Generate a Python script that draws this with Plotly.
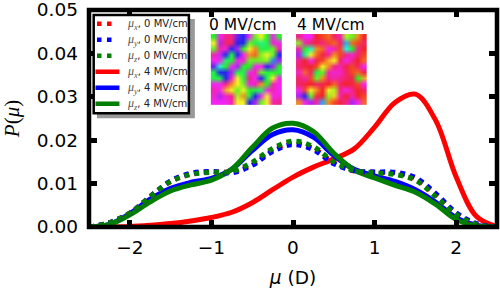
import base64
import colorsys
import struct
import zlib
import plotly.graph_objects as go

W, H = 500, 290
L, R, T, B = 89, 497.5, 10, 226.7

mu_grid = [-2.5, -2.25, -2.0, -1.75, -1.5, -1.25, -1.0, -0.75, -0.5, -0.25, 0.0, 0.25, 0.5, 0.75, 1.0, 1.25, 1.5, 1.75, 2.0, 2.25, 2.5]

p_x_4mv = [0.0, 0.0, 0.0001, 0.0004, 0.0008, 0.0014, 0.0022, 0.0034, 0.0056, 0.0086, 0.0115, 0.0138, 0.0157, 0.0180, 0.0230, 0.0287, 0.0306, 0.0245, 0.0115, 0.0024, 0.0001]
p_y_4mv = [0.0, 0.0006, 0.0031, 0.0064, 0.0089, 0.0103, 0.0112, 0.0133, 0.0176, 0.0213, 0.0224, 0.0207, 0.0165, 0.0133, 0.0118, 0.0105, 0.0086, 0.0057, 0.0021, 0.0004, 0.0]
p_z_4mv = [0.0, 0.0006, 0.0028, 0.0058, 0.0083, 0.0097, 0.0108, 0.0133, 0.0183, 0.0228, 0.0239, 0.0220, 0.0170, 0.0131, 0.0113, 0.0096, 0.0080, 0.0052, 0.0017, 0.0003, 0.0]
p_x_0mv = [0.0, 0.0010, 0.0032, 0.0070, 0.0105, 0.0122, 0.0127, 0.0127, 0.0145, 0.0177, 0.0193, 0.0181, 0.0148, 0.0129, 0.0126, 0.0124, 0.0111, 0.0074, 0.0031, 0.0007, 0.0]
p_y_0mv = [0.0, 0.0010, 0.0032, 0.0070, 0.0106, 0.0124, 0.0128, 0.0125, 0.0142, 0.0174, 0.0190, 0.0178, 0.0146, 0.0130, 0.0127, 0.0126, 0.0114, 0.0077, 0.0033, 0.0008, 0.0]
p_z_0mv = [0.0, 0.0010, 0.0032, 0.0070, 0.0105, 0.0121, 0.0126, 0.0128, 0.0149, 0.0181, 0.0198, 0.0185, 0.0150, 0.0130, 0.0125, 0.0121, 0.0108, 0.0070, 0.0029, 0.0006, 0.0]

hue_0mv = [
    [120, 300, 330, 330, 260, 240, 300, 100, 60, 120, 300, 120],
    [60, 280, 340, 340, 240, 240, 100, 130, 150, 130, 310, 300],
    [100, 320, 310, 240, 280, 120, 60, 30, 130, 130, 100, 320],
    [320, 290, 240, 130, 240, 300, 30, 20, 90, 60, 100, 240],
    [300, 300, 140, 120, 300, 310, 100, 100, 100, 90, 210, 280],
    [260, 170, 120, 300, 280, 120, 120, 300, 300, 240, 280, 120],
    [130, 240, 240, 280, 130, 130, 300, 320, 100, 130, 120, 130],
    [130, 130, 240, 310, 60, 130, 330, 300, 240, 130, 60, 300],
    [300, 300, 330, 30, 60, 100, 300, 320, 30, 120, 320, 300],
    [320, 300, 40, 60, 100, 60, 120, 130, 140, 300, 320, 300],
    [310, 280, 310, 330, 80, 30, 130, 240, 300, 60, 300, 310],
    [300, 300, 300, 320, 60, 60, 240, 280, 100, 60, 320, 330],
]
hue_4mv = [
    [330, 300, 300, 0, 10, 20, 340, 320, 80, 100, 30, 0],
    [90, 320, 340, 350, 330, 10, 20, 340, 200, 20, 10, 340],
    [320, 120, 170, 30, 20, 300, 320, 10, 180, 120, 330, 0],
    [280, 150, 60, 20, 350, 330, 30, 10, 330, 310, 340, 10],
    [330, 0, 300, 350, 10, 40, 60, 340, 300, 330, 0, 20],
    [340, 350, 0, 10, 60, 30, 330, 320, 350, 10, 340, 300],
    [310, 20, 340, 130, 100, 320, 310, 315, 340, 10, 20, 350],
    [340, 320, 10, 100, 30, 330, 320, 330, 340, 350, 120, 40],
    [340, 350, 0, 340, 350, 0, 20, 340, 0, 350, 10, 300],
    [300, 10, 60, 30, 0, 60, 80, 330, 300, 330, 0, 340],
    [280, 240, 100, 350, 0, 90, 50, 320, 0, 320, 0, 10],
    [30, 300, 280, 320, 200, 30, 10, 350, 330, 280, 300, 20],
]

legend_labels = [
    ("x", "0 MV/cm", "red", True), ("y", "0 MV/cm", "blue", True), ("z", "0 MV/cm", "green", True),
    ("x", "4 MV/cm", "red", False), ("y", "4 MV/cm", "blue", False), ("z", "4 MV/cm", "green", False),
]
y_ticks = [0.0, 0.01, 0.02, 0.03, 0.04, 0.05]
x_ticks = [-2, -1, 0, 1, 2]
x_tick_text = ["−2", "−1", "0", "1", "2"]


def px(x):
    return (x - L) / (R - L)


def py(y):
    return (B - y) / (B - T)


def png_uri(grid):
    """Encode a hue grid as a small PNG; the browser blends it when stretched."""
    rows = []
    for row in grid:
        raw = bytearray([0])
        for h in row:
            r, g, b = colorsys.hsv_to_rgb(h / 360, 0.85, 0.95)
            raw += bytes([int(r * 255), int(g * 255), int(b * 255)])
        rows.append(bytes(raw))

    def chunk(tag, data):
        return struct.pack(">I", len(data)) + tag + data + struct.pack(">I", zlib.crc32(tag + data))

    head = struct.pack(">IIBBBBB", len(grid[0]), len(grid), 8, 2, 0, 0, 0)
    png = b"\x89PNG\r\n\x1a\n" + chunk(b"IHDR", head) + chunk(b"IDAT", zlib.compress(b"".join(rows))) + chunk(b"IEND", b"")
    return "data:image/png;base64," + base64.b64encode(png).decode()


fig = go.Figure()
for name, ys, col, dash in [
    ("mu_x, 4 MV/cm", p_x_4mv, "#ff0000", None),
    ("mu_y, 4 MV/cm", p_y_4mv, "#0000ff", None),
    ("mu_z, 4 MV/cm", p_z_4mv, "#007f00", None),
    ("mu_x, 0 MV/cm", p_x_0mv, "#ff0000", "5px,5px"),
    ("mu_y, 0 MV/cm", p_y_0mv, "#0000ff", "5px,5px"),
    ("mu_z, 0 MV/cm", p_z_0mv, "#007f00", "5px,5px"),
]:
    fig.add_trace(go.Scatter(x=mu_grid, y=ys, name=name, mode="lines",
                             line=dict(color=col, width=5, dash=dash, shape="spline", smoothing=1.0)))

shapes = [
    dict(type="rect", xref="paper", yref="paper", x0=px(97), x1=px(195), y0=py(118), y1=py(19),
         fillcolor="#999999", line=dict(width=0), layer="above"),
    dict(type="rect", xref="paper", yref="paper", x0=px(93.7), x1=px(189), y0=py(113), y1=py(15),
         fillcolor="white", line=dict(color="black", width=2.5), layer="above"),
    dict(type="rect", xref="paper", yref="paper", x0=0, x1=1, y0=0, y1=1,
         line=dict(color="black", width=4.5), layer="above"),
]
annotations = [
    dict(text="0 MV/cm", x=px(243.5), y=py(25), xref="paper", yref="paper", showarrow=False,
         xanchor="center", yanchor="middle", font=dict(size=15.5, color="black")),
    dict(text="4 MV/cm", x=px(331), y=py(25), xref="paper", yref="paper", showarrow=False,
         xanchor="center", yanchor="middle", font=dict(size=15.5, color="black")),
]
colors = {"red": "#ff0000", "blue": "#0000ff", "green": "#007f00"}
for i, (sub, field, cname, dotted) in enumerate(legend_labels):
    row_y = 23.7 + i * 15.98
    line = dict(color=colors[cname], width=4.5)
    end = 119.5
    if dotted:
        line["dash"] = "4.5px,5.5px"
        end = 116
    shapes.append(dict(type="line", xref="paper", yref="paper", x0=px(97), x1=px(end) if dotted else px(end),
                       y0=py(row_y), y1=py(row_y), line=line, layer="above") if dotted else
                  dict(type="line", xref="paper", yref="paper", x0=px(95.5), x1=px(end),
                       y0=py(row_y), y1=py(row_y), line=line, layer="above"))
    annotations.append(dict(
        text=f"<span style='color:#555555;font-family:Liberation Serif;font-size:12px'><i>μ<sub>{sub}</sub></i></span>, {field}",
        x=px(125.5), y=py(row_y), xref="paper", yref="paper", xanchor="left", yanchor="middle",
        showarrow=False, font=dict(size=10, color="#222222")))

images = []
for grid, x0, x1 in [(hue_0mv, 211, 282), (hue_4mv, 296.3, 367)]:
    images.append(dict(source=png_uri(grid), xref="paper", yref="paper", x=px(x0), y=py(34),
                       sizex=px(x1) - px(x0), sizey=py(34) - py(104.7), sizing="stretch",
                       xanchor="left", yanchor="top", layer="above"))

fig.update_layout(
    width=W, height=H,
    margin=dict(l=L, r=W - R, t=T, b=H - B, autoexpand=False),
    paper_bgcolor="white", plot_bgcolor="white",
    showlegend=False,
    font=dict(family="DejaVu Sans", color="black"),
    shapes=shapes, annotations=annotations, images=images,
    xaxis=dict(range=[-2.5, 2.5], tickmode="array", tickvals=x_ticks, ticktext=x_tick_text,
               ticks="inside", ticklen=7, tickwidth=4.5, tickcolor="black", mirror="ticks",
               showgrid=False, zeroline=False, showline=False, ticklabeloverflow="allow",
               tickfont=dict(size=18.5), ticklabelstandoff=7,
               title=dict(text="<i>μ</i> (D)", font=dict(size=18.5), standoff=14)),
    yaxis=dict(range=[0, 0.05], tickmode="array", tickvals=y_ticks, tickformat=".2f",
               ticks="inside", ticklen=8, tickwidth=4.5, tickcolor="black", mirror="ticks",
               showgrid=False, zeroline=False, showline=False, ticklabeloverflow="allow",
               tickfont=dict(size=18.5), ticklabelstandoff=10,
               title=dict(text="<i>P</i>(<i>μ</i>)", font=dict(size=21, family="Liberation Serif"), standoff=13)),
)

fig.write_html("out.html", config={"displayModeBar": False},
               post_script="document.body.style.margin='0';")
